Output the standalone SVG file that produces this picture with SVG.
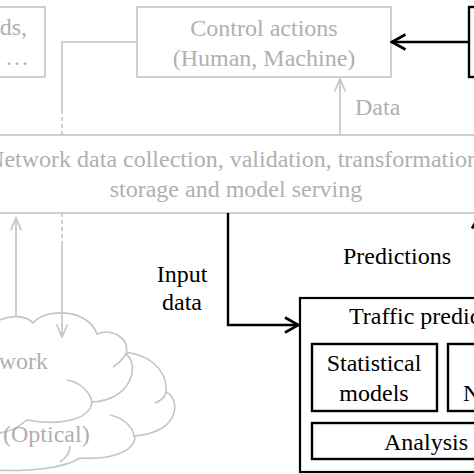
<svg xmlns="http://www.w3.org/2000/svg" width="474" height="474" viewBox="0 0 474 474">
<style>
.g{fill:none;stroke:#c4c4c4;stroke-width:1.6}
.gf{fill:#fff;stroke:#c4c4c4;stroke-width:1.6}
.b{fill:none;stroke:#000;stroke-width:2.4}
.bf{fill:#fff;stroke:#000;stroke-width:2.2}
.tg{font-family:"Liberation Serif","Times New Roman",serif;font-size:24px;fill:#b0b0b0}
.tb{font-family:"Liberation Serif","Times New Roman",serif;font-size:24px;fill:#000}
.d{stroke-dasharray:4 3}
</style>
<defs>
<marker id="ag" markerUnits="userSpaceOnUse" markerWidth="16" markerHeight="14" viewBox="0 0 16 14" refX="14" refY="7" orient="auto">
<path d="M1.5,1.5 L14,7 L1.5,12.5" fill="none" stroke="#c4c4c4" stroke-width="1.6"/>
</marker>
<marker id="ab" markerUnits="userSpaceOnUse" markerWidth="18" markerHeight="20" viewBox="0 0 18 20" refX="15.5" refY="10" orient="auto">
<path d="M2,2.5 L15.5,10 L2,17.5" fill="none" stroke="#000" stroke-width="2.6"/>
</marker>
</defs>
<rect width="474" height="474" fill="#fff"/>

<g id="cloud">
<path class="gf" d="M120,352 C145,352 168,368 166,392 C180,398 182,432 135,436 C135,452 110,460 80,458 C65,468 30,472 -10,470 L-10,350 Z"/>
<path class="g" d="M110,415 C124,418 134,428 134,437"/>
<path class="g" d="M166,392 C165,398 160,401 155,403"/>
<path class="g" d="M60,462 C66,458 70,452 70,446"/>
<path class="gf" d="M-10,326 C5,314 25,314 33,323 C45,308 88,308 97,334 C112,328 130,338 126,354 C140,365 132,400 92,402 C90,420 60,426 27,420 C18,428 8,433 -10,434 Z"/>
<path class="g" d="M126,354 C122,360 118,364 113,367"/>
<path class="g" d="M67,380 C80,382 90,392 92,402"/>
<text class="tg" x="48" y="369" text-anchor="end">work</text>
<text class="tg" x="3" y="442">(Optical)</text>
</g>

<g id="top-left-box">
<rect class="g" x="-20" y="7" width="65" height="70"/>
<text class="tg" x="27" y="35" text-anchor="end">ds,</text>
<text class="tg" x="29" y="65" text-anchor="end">…</text>
</g>

<g id="control-actions">
<rect class="g" x="137" y="7" width="254" height="70"/>
<text class="tg" x="264" y="36" text-anchor="middle">Control actions</text>
<text class="tg" x="264" y="66" text-anchor="middle">(Human, Machine)</text>
</g>

<g id="top-right-box">
<rect class="b" x="469" y="7" width="60" height="70"/>
</g>

<g id="data-platform">
<rect class="g" x="-20" y="135" width="520" height="78"/>
<text class="tg" x="236" y="167" text-anchor="middle">Network data collection, validation, transformation,</text>
<text class="tg" x="236" y="197" text-anchor="middle">storage and model serving</text>
</g>

<g id="traffic-prediction">
<rect class="bf" x="300" y="298" width="220" height="174"/>
<text class="tb" x="349" y="324">Traffic prediction</text>
<g id="statistical-models">
<rect class="b" x="312" y="344" width="125" height="67"/>
<text class="tb" x="374" y="371" text-anchor="middle">Statistical</text>
<text class="tb" x="374" y="401" text-anchor="middle">models</text>
</g>
<g id="n-models">
<rect class="b" x="448" y="344" width="100" height="67"/>
<text class="tb" x="463" y="401">N</text>
</g>
<g id="analysis">
<rect class="b" x="312" y="423" width="240" height="36"/>
<text class="tb" x="426" y="450" text-anchor="middle">Analysis</text>
</g>
</g>

<g id="connectors">
<path class="g" d="M137,42 H62 V110"/>
<path class="g d" d="M62,110 V135"/>
<path class="g d" d="M62,213 V244"/>
<path class="g" d="M62,244 V337" marker-end="url(#ag)"/>
<path class="g" d="M16,317 V218" marker-end="url(#ag)"/>
<path class="g" d="M340,135 V79" marker-end="url(#ag)"/>
<path class="b" d="M469,42 H392" marker-end="url(#ab)"/>
<path class="b" d="M228,213 V325 H298.5" marker-end="url(#ab)"/>
<path class="b" d="M479.5,298 V215" marker-end="url(#ab)"/>
</g>

<g id="labels">
<text class="tg" x="355" y="115">Data</text>
<text class="tb" x="343" y="264">Predictions</text>
<text class="tb" x="182" y="282" text-anchor="middle">Input</text>
<text class="tb" x="182" y="310" text-anchor="middle">data</text>
</g>
</svg>
